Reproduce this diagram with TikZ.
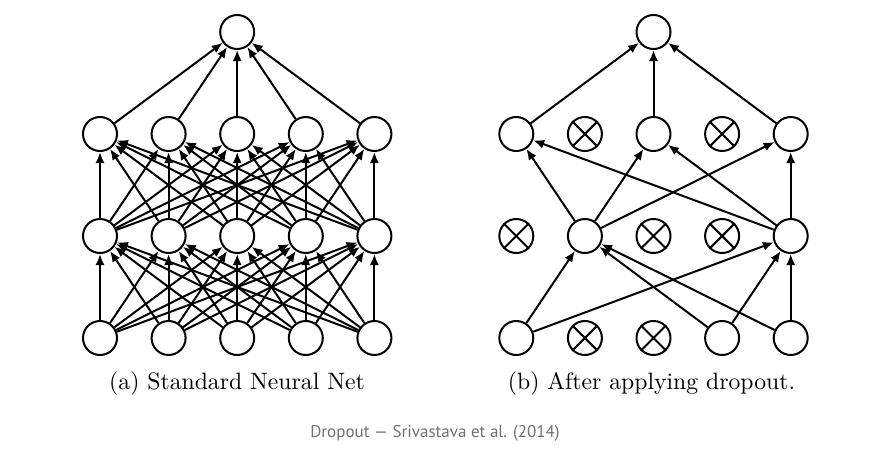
\documentclass[tikz,border=0pt]{standalone}
\usepackage{fontspec}
\newfontfamily\srcfont{PT Sans}
\usetikzlibrary{arrows.meta}
\definecolor{srcgray}{HTML}{707070}
\tikzset{
  unit/.style={circle, draw, minimum size=34pt, inner sep=0pt},
  caption/.style={scale=2.37, font=\fontsize{10}{12}\selectfont},
}
\begin{document}
\begin{tikzpicture}[x=1pt, y=1pt, line width=2pt, >={Latex[length=11pt,width=9pt]}]
  \useasboundingbox (0,0) rectangle (884,-466);
  \def\x{68.6}
  \def\y{102}
  % standard net
  \foreach \r in {0,1,2}
    \foreach \c in {0,...,4}
      \node[unit] (S\r_\c) at (100+\c*\x, -338+\r*\y) {};
  \node[unit] (S3_2) at (100+2*\x, -338+3*\y) {};
  \foreach \r/\s in {0/1,1/2}
    \foreach \a in {0,...,4}
      \foreach \b in {0,...,4}
        \path (S\r_\a) edge [->] (S\s_\b);
  \foreach \a in {0,...,4}
    \path (S2_\a) edge [->] (S3_2);
  % dropout net
  \foreach \r/\c in {0/0,0/3,0/4,1/1,1/4,2/0,2/2,2/4}
    \node[unit] (D\r_\c) at (516.3+\c*\x, -338+\r*\y) {};
  \node[unit] (D3_2) at (516.3+2*\x, -338+3*\y) {};
  \foreach \r/\c in {0/1,0/2,1/0,1/2,1/3,2/1,2/3} {
    \node[unit] (D\r_\c) at (516.3+\c*\x, -338+\r*\y) {};
    \draw (D\r_\c.45) -- (D\r_\c.225) (D\r_\c.135) -- (D\r_\c.-45);
  }
  \foreach \a/\b in {0/1,0/4,3/1,3/4,4/1,4/4}
    \path (D0_\a) edge [->] (D1_\b);
  \foreach \a/\b in {1/0,1/2,1/4,4/0,4/2,4/4}
    \path (D1_\a) edge [->] (D2_\b);
  \foreach \a in {0,2,4}
    \path (D2_\a) edge [->] (D3_2);
  % captions
  \node[caption] (capA) at (237,-384) {(a) Standard Neural Net};
  \node[caption] (capB) at (651.5,-384) {(b) After applying dropout.};
  \node[font=\srcfont\fontsize{17}{20}\selectfont, text=srcgray] (src) at (435,-433) {Dropout — Srivastava et al. (2014)};
\end{tikzpicture}
\end{document}
